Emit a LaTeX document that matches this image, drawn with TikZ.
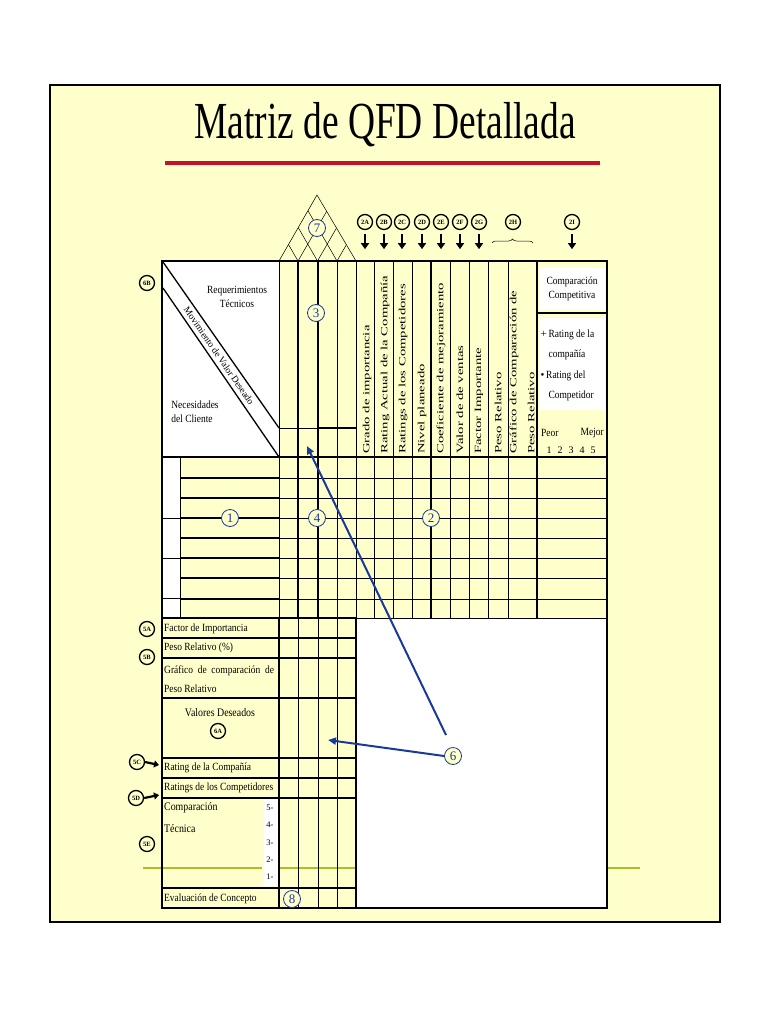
\documentclass[tikz,border=0pt]{standalone}
\usepackage{fontspec}
\setmainfont{Liberation Serif}
\usetikzlibrary{arrows.meta,decorations.pathreplacing}
\definecolor{bgy}{HTML}{FFFFCC}
\definecolor{qblue}{HTML}{1A3A9A}
\definecolor{qred}{HTML}{C8102E}
\definecolor{qgreen}{HTML}{A8C030}
\newcommand{\cnd}[1]{\scalebox{0.86}[1]{#1}}
\newcommand{\wide}[1]{\scalebox{1.55}[1]{#1}}
\tikzset{
 bc/.style={circle,draw=qblue,thick,fill=bgy,text=qblue,inner sep=1pt,minimum size=17pt,font=\fontsize{13}{13}\selectfont},
 kc/.style={circle,draw=black,line width=1.3pt,fill=bgy,inner sep=0pt,minimum size=15pt,font=\fontsize{6.5}{6.5}\selectfont\bfseries},
 hl/.style={rotate=90,anchor=west,inner sep=1pt,font=\fontsize{9.5}{10}\selectfont},
 lb/.style={anchor=west,inner sep=1pt,font=\fontsize{11}{10}\selectfont},
 thin line/.style={line width=0.5pt},
 thick line/.style={line width=1.3pt},
 dn/.style={-{Triangle[length=6pt,width=8pt]},line width=2.4pt},
 barrow/.style={-{Triangle[length=8pt,width=7pt]},line width=2pt,qblue}
}
\begin{document}
\begin{tikzpicture}[x=1pt,y=-1pt]
\useasboundingbox (0,0) rectangle (768,1024);
\fill[white] (0,0) rectangle (768,1024);
\draw[line width=2pt,fill=bgy] (50,85) rectangle (720,922);
\node[font=\fontsize{52}{52}\selectfont] (title) at (385,125) {\scalebox{0.72}[1]{Matriz de QFD Detallada}};
\draw[qred,line width=4pt] (165,163) -- (600,163);
% white areas
\fill[white] (162,261) rectangle (279,457);
\fill[white] (356,618) rectangle (607,908);
\fill[white] (162,457) rectangle (180,618);
\fill[white] (540,267) rectangle (605,310);
\fill[white] (540,318) rectangle (605,410);
% green line
\draw[qgreen,line width=2pt] (143,868) -- (262,868);
\draw[qgreen,line width=2pt] (279,868) -- (356,868);
\draw[qgreen,line width=2pt] (607,868) -- (640,868);
% roof
\begin{scope}
\clip (279,261) -- (317,195) -- (356,261) -- cycle;
\foreach \i in {-4,...,4}{
 \draw[thin line] (298+19.5*\i,261) -- ++(60,-104);
 \draw[thin line] (337+19.5*\i,261) -- ++(-60,-104);
}
\end{scope}
\draw[thin line] (279,261) -- (317,195) -- (356,261);
% outer grid frame
\draw[thick line] (162,261) rectangle (607,908);
\draw[thick line] (162,457) -- (607,457);
% vertical column lines
\foreach \x in {279,337,356,374,393,412,450,469,488,508}{
 \draw[thin line] (\x,261) -- (\x,618);}
\foreach \x in {298,318,431,537}{
 \draw[thick line] (\x,261) -- (\x,618);}
\foreach \x in {279,298,318,337,356}{
 \draw[thin line] (\x,618) -- (\x,908);}
\draw[thick line] (279,618) -- (279,908);
\draw[thick line] (356,618) -- (356,908);
\draw[thin line] (279,428) -- (337,428);
\draw[thick line] (318,428) -- (356,428);
\draw[thick line] (537,313) -- (607,313);
% diagonals
\draw[thick line] (163,262) -- (279,428);
\draw[thick line] (163,288) -- (279,457);
\node[rotate=-55.5,font=\fontsize{9.5}{10}\selectfont,inner sep=0pt] (mov) at (219,356) {Movimiento de Valor Deseado};
\node[align=center,font=\fontsize{11}{14}\selectfont] (req) at (237,297) {\cnd{Requerimientos}\\\cnd{Técnicos}};
\node[align=left,font=\fontsize{11}{14}\selectfont] (nec) at (195,412) {\cnd{Necesidades}\\\cnd{del Cliente}};
% body rows
\foreach \y in {478,498,518,538,558,578,599}{
 \draw[thin line] (279,\y) -- (607,\y);
 \draw[thick line] (180,\y) -- (279,\y);}
\draw[thick line] (162,618) -- (356,618);
\draw[thin line] (356,618) -- (607,618);
\draw[thin line] (180,457) -- (180,618);
\foreach \y in {518,558,598}{\draw[thin line] (162,\y) -- (180,\y);}
% lower rows
\foreach \y in {638,658,698,758,778,798,888}{
 \draw[thick line] (162,\y) -- (356,\y);}
\fill[white] (263,800) rectangle (278,886);
% header column labels
\node[hl] (h1) at (367,455) {\wide{Grado de importancia}};
\node[hl] (h2) at (385,455) {\wide{Rating Actual de la Compañía}};
\node[hl] (h3) at (403,455) {\wide{Ratings de los Competidores}};
\node[hl] (h4) at (422,455) {\wide{Nivel planeado}};
\node[hl] (h5) at (441,455) {\wide{Coeficiente de mejoramiento}};
\node[hl] (h6) at (460,455) {\wide{Valor de de ventas}};
\node[hl] (h7) at (479,455) {\wide{Factor Importante}};
\node[hl] (h8) at (498,455) {\wide{Peso Relativo}};
\node[hl] (h9) at (514,455) {\wide{Gráfico de Comparación de}};
\node[hl] (h10) at (531,455) {\wide{Peso Relativo}};
% comparacion competitiva
\node[align=center,font=\fontsize{11}{14}\selectfont] (cc) at (572,289) {\cnd{Comparación}\\\cnd{Competitiva}};
\node[align=left,anchor=north west,font=\fontsize{11}{20}\selectfont] (r1) at (537,326) {+\,\cnd{Rating de la}\\\phantom{+\,}\cnd{compañía}};
\node[align=left,anchor=north west,font=\fontsize{11}{20}\selectfont] (r2) at (537,367) {\textbullet\,\cnd{Rating del}\\\phantom{+\,}\cnd{Competidor}};
\node[lb] (peor) at (540,433) {\cnd{Peor}};
\node[anchor=east,inner sep=1pt,font=\fontsize{11}{10}\selectfont] (mejor) at (605,433) {\cnd{Mejor}};
\node[font=\fontsize{10}{10}\selectfont] (esc) at (571,450) {1\hspace{6pt}2\hspace{6pt}3\hspace{6pt}4\hspace{6pt}5};
% lower labels
\node[lb] (fi) at (163,629) {\cnd{Factor de Importancia}};
\node[lb] (pr) at (163,648) {\cnd{Peso Relativo (\%)}};
\node[lb,align=left,font=\fontsize{11}{19}\selectfont] (gr) at (163,679) {\cnd{Gráfico\ \ de\ \ comparación\ \ de}\\\cnd{Peso Relativo}};
\node[font=\fontsize{11.5}{10}\selectfont] (vd) at (220,713) {\cnd{Valores Deseados}};
\node[lb] (rc) at (163,768) {\cnd{Rating de la Compañía}};
\node[lb] (rcp) at (163,788) {\cnd{Ratings de los Competidores}};
\node[lb,align=left,anchor=north west,font=\fontsize{11.5}{22}\selectfont] (ct) at (163,801) {\cnd{Comparación}\\\cnd{Técnica}};
\foreach \v/\y in {5/808,4/825,3/843,2/860,1/877}{
 \node[font=\fontsize{8.5}{8}\selectfont,inner sep=0pt] (s\v) at (270,\y) {\v-};}
\node[lb] (ev) at (163,899) {\cnd{Evaluación de Concepto}};
% black circled labels
\node[kc] (c2a) at (365,222) {2A};
\node[kc] (c2b) at (384,222) {2B};
\node[kc] (c2c) at (402,222) {2C};
\node[kc] (c2d) at (422,222) {2D};
\node[kc] (c2e) at (441,222) {2E};
\node[kc] (c2f) at (460,222) {2F};
\node[kc] (c2g) at (479,222) {2G};
\node[kc] (c2h) at (513,222) {2H};
\node[kc] (c2i) at (572,222) {2I};
\foreach \n in {c2a,c2b,c2c,c2d,c2e,c2f,c2g,c2i}{
 \draw[dn] ([yshift=-4pt]\n.south) -- ++(0,15);}
\draw[decorate,decoration={brace,amplitude=4pt},thin line] (492,243) -- (533,243);
\node[kc] (c6b) at (147,283) {6B};
\node[kc] (c5a) at (147,629) {5A};
\node[kc] (c5b) at (147,657) {5B};
\node[kc] (c5c) at (137,762) {5C};
\node[kc] (c5d) at (136,798) {5D};
\node[kc] (c5e) at (147,844) {5E};
\node[kc] (c6a) at (218,731) {6A};
\draw[-{Triangle[length=5pt,width=7pt]},line width=2.2pt] (c5c.east) -- (159,765);
\draw[-{Triangle[length=5pt,width=7pt]},line width=2.2pt] (c5d.east) -- (159,795);
% blue circles
\node[bc] (b7) at (317,228) {7};
\node[bc] (b3) at (316,313) {3};
\node[bc] (b1) at (230,518) {1};
\node[bc] (b4) at (317,518) {4};
\node[bc] (b2) at (431,518) {2};
\node[bc] (b6) at (453,756) {6};
\node[bc] (b8) at (292,899) {8};
\coordinate (t1) at (307,446);
\coordinate (t2) at (328,740);
\draw[barrow] (446,735) -- (t1);
\draw[barrow] (b6.west) -- (t2);
\end{tikzpicture}
\end{document}
